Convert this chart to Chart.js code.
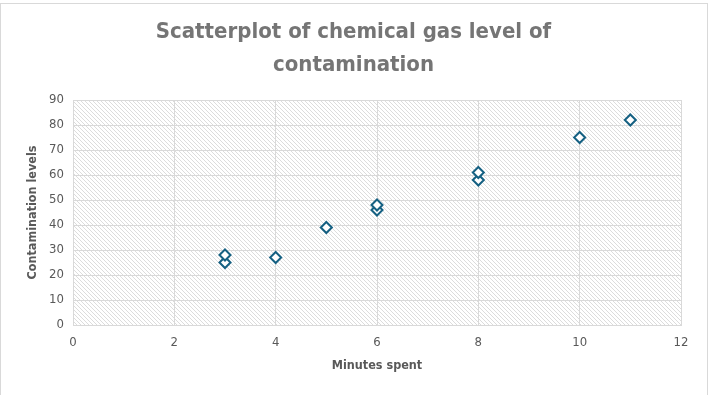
<!DOCTYPE html>
<html>
<head>
<meta charset="utf-8">
<script src="https://cdn.jsdelivr.net/npm/chart.js@4.4.1/dist/chart.umd.min.js"></script>
<style>
  html, body { margin: 0; padding: 0; background: #ffffff; }
  #wrap { position: relative; width: 710px; height: 395px; overflow: hidden; }
  #frame { position: absolute; left: 0; top: 3px; width: 708px; height: 400px; border: 1px solid #d9d9d9; pointer-events: none; box-sizing: border-box; }
</style>
</head>
<body>
<div id="wrap">
  <canvas id="c" width="710" height="395"></canvas>
  <div id="frame"></div>
</div>
<script>
const minutesSpent = [3, 3, 4, 5, 6, 6, 8, 8, 10, 11];
const contaminationLevels = [25, 28, 27, 39, 46, 48, 58, 61, 75, 82];
const titleLines = ["Scatterplot of chemical gas level of", "contamination"];
const xAxisTitle = "Minutes spent";
const yAxisTitle = "Contamination levels";

const points = minutesSpent.map((x, i) => ({ x: x, y: contaminationLevels[i] }));

const FONT = "'Liberation Sans Narrow', 'DejaVu Sans Condensed', 'Roboto', sans-serif";

function makeHatch() {
  const t = document.createElement('canvas');
  t.width = 8; t.height = 8;
  const g = t.getContext('2d');
  g.fillStyle = '#ffffff';
  g.fillRect(0, 0, 8, 8);
  g.fillStyle = '#dcdcdc';
  for (let y = 0; y < 8; y++) {
    for (let x = 0; x < 8; x++) {
      if (((x - y) % 4 + 4) % 4 === 0) g.fillRect(x, y, 1, 1);
    }
  }
  return t;
}

const hatchPlugin = {
  id: 'hatch',
  beforeDraw(chart) {
    const { ctx, chartArea: a } = chart;
    ctx.save();
    ctx.fillStyle = ctx.createPattern(makeHatch(), 'repeat');
    ctx.fillRect(a.left, a.top, a.right - a.left, a.bottom - a.top);
    ctx.restore();
  }
};

new Chart(document.getElementById('c'), {
  type: 'scatter',
  data: {
    datasets: [{
      data: points,
      pointStyle: 'rectRot',
      pointRadius: 5.5,
      pointHoverRadius: 5.5,
      pointBorderWidth: 2,
      borderColor: '#156082',
      backgroundColor: '#ffffff'
    }]
  },
  options: {
    responsive: false,
    animation: false,
    devicePixelRatio: 1,
    layout: { padding: { left: 26, right: 29, top: 0, bottom: 17 } },
    plugins: {
      legend: { display: false },
      tooltip: { enabled: false },
      title: {
        display: true,
        text: titleLines,
        color: '#757575',
        font: { family: FONT, size: 22, weight: 'bold', lineHeight: 1.5 },
        padding: { top: 15.5, bottom: 18.5 }
      }
    },
    scales: {
      x: {
        type: 'linear',
        min: 0, max: 12,
        ticks: { stepSize: 2, color: '#595959', font: { family: FONT, size: 13 }, padding: 10, maxRotation: 0 },
        grid: { color: '#d9d9d9', drawTicks: false, lineWidth: 1 },
        border: { color: '#d9d9d9' },
        title: { display: true, text: xAxisTitle, color: '#595959', font: { family: FONT, size: 12.5, weight: 'bold', lineHeight: 1.2 }, padding: { top: 0, bottom: 5 } },
        afterFit(s) { s.height = 53; }
      },
      y: {
        type: 'linear',
        min: 0, max: 90,
        ticks: { stepSize: 10, color: '#595959', font: { family: FONT, size: 13 }, padding: 9 },
        grid: { color: '#d9d9d9', drawTicks: false, lineWidth: 1 },
        border: { color: '#d9d9d9' },
        title: { display: true, text: yAxisTitle, color: '#595959', font: { family: FONT, size: 12.5, weight: 'bold', lineHeight: 1.2 }, padding: { top: -1, bottom: 0 } },
        afterFit(s) { s.width = 47; }
      }
    }
  },
  plugins: [hatchPlugin]
});
</script>
</body>
</html>
